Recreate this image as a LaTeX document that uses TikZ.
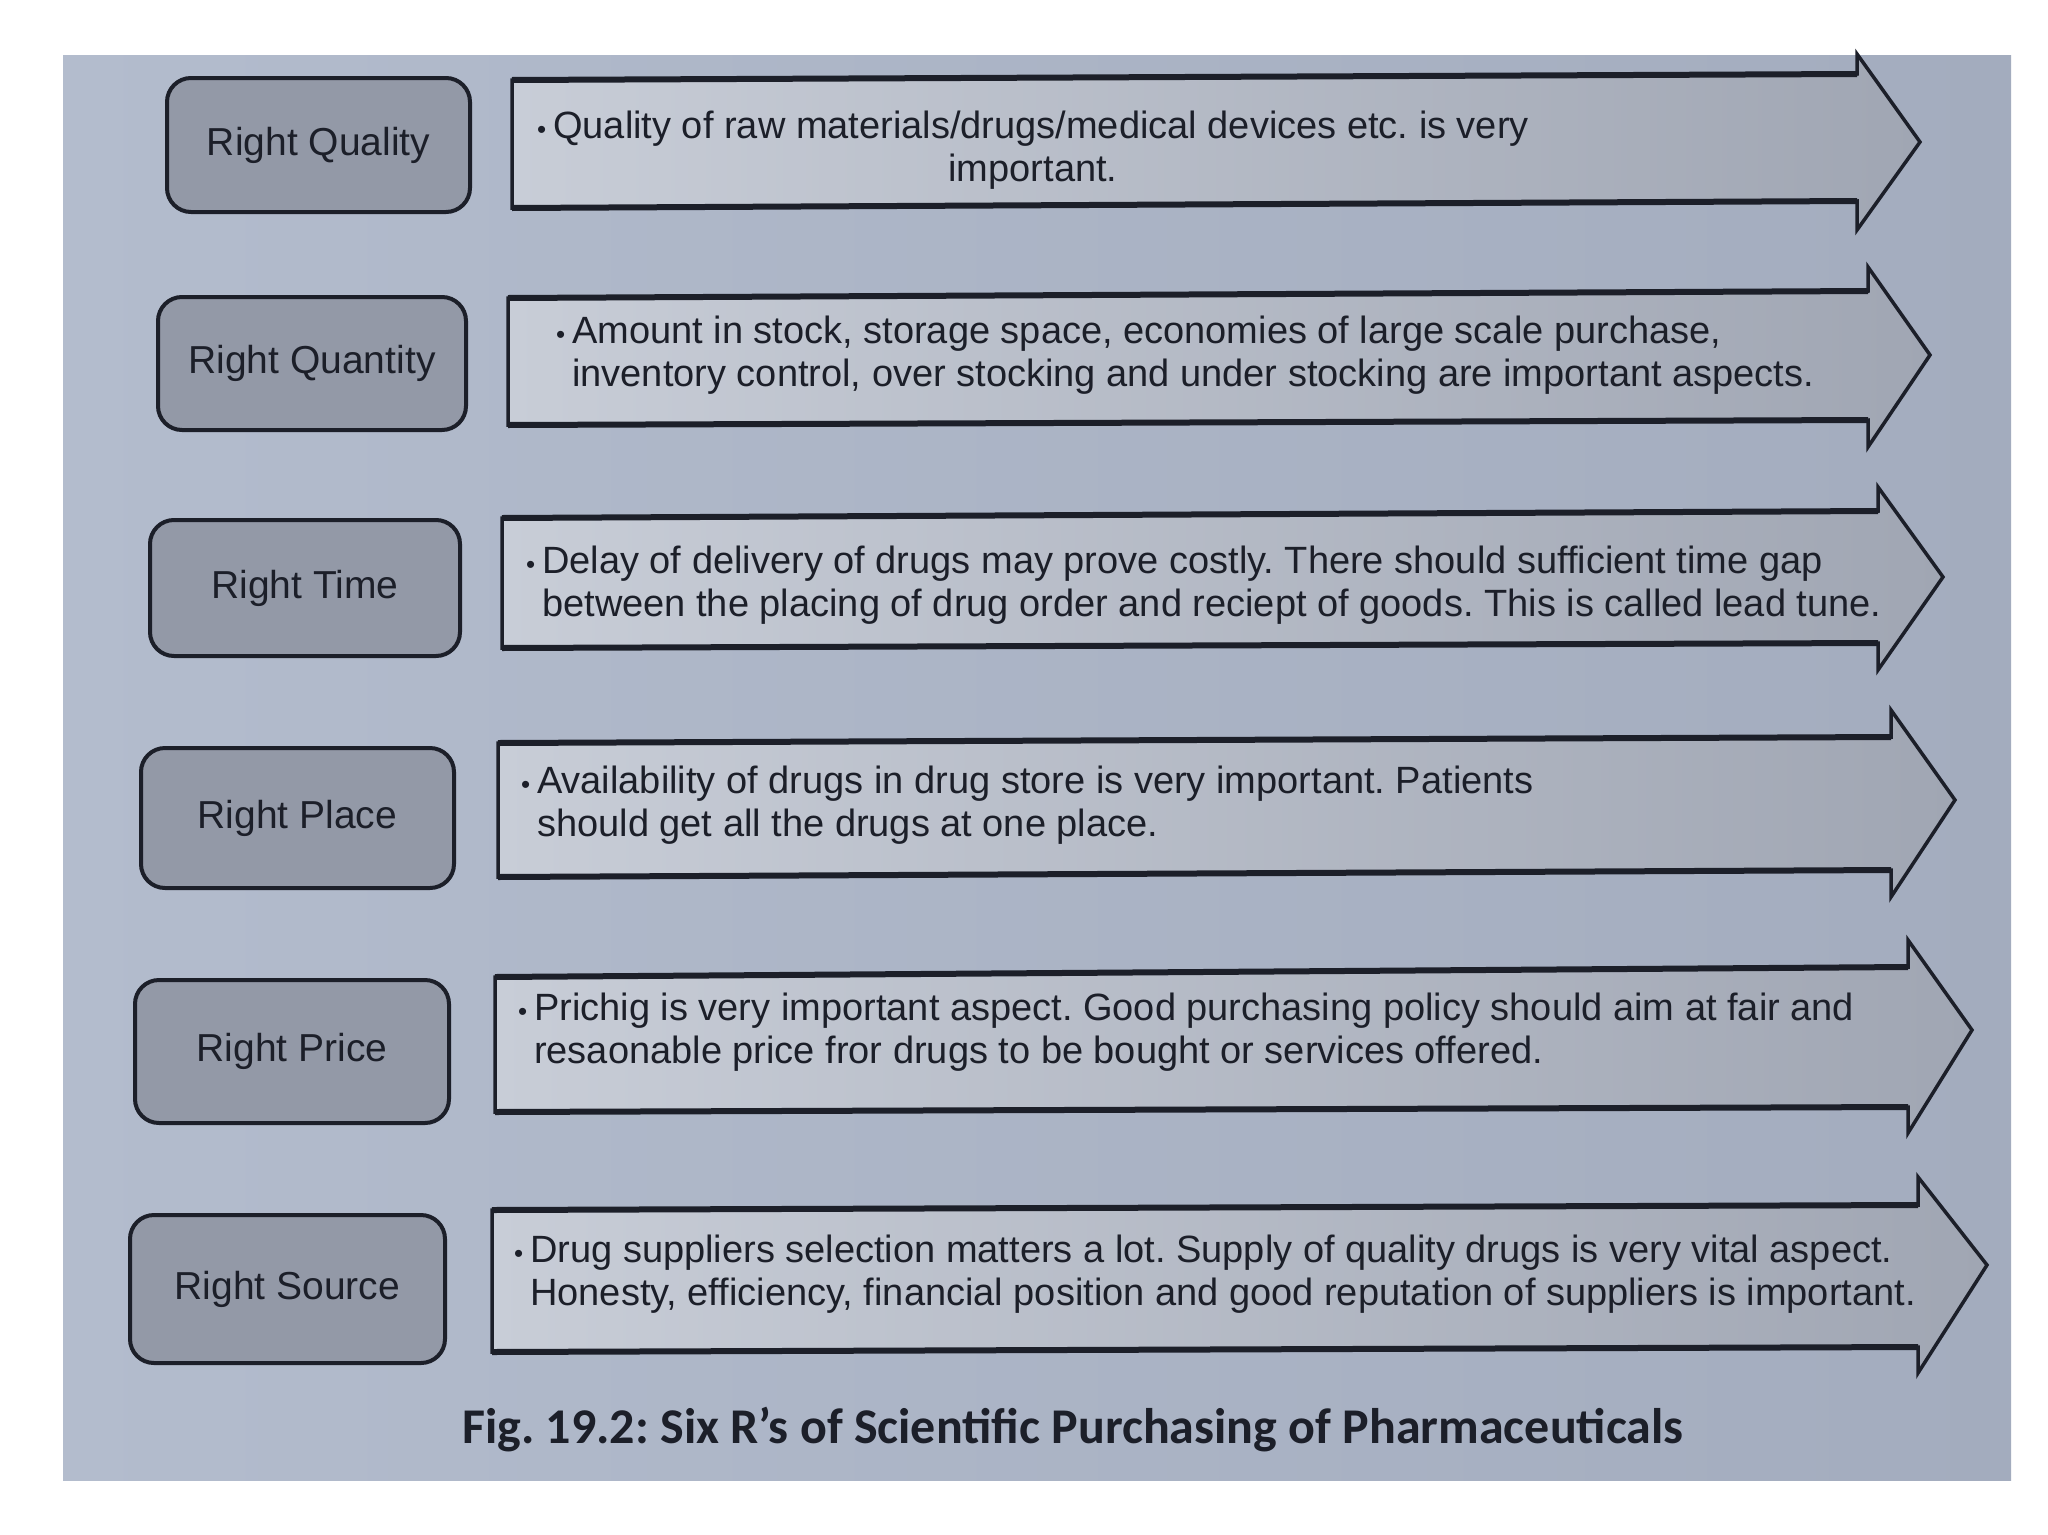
\documentclass[tikz,border=0pt]{standalone}
\usepackage{fontspec}
\setmainfont{Liberation Sans}
\newfontfamily\capfont{Carlito}
\definecolor{ink}{HTML}{1C1F29}
\definecolor{bgL}{HTML}{B3BCCD}
\definecolor{bgM}{HTML}{C5CCD9}
\definecolor{bgR}{HTML}{A3ACBE}
\definecolor{boxfill}{HTML}{9399A7}
\definecolor{arrL}{HTML}{C8CDD7}
\definecolor{arrM}{HTML}{C3C8D2}
\definecolor{arrR}{HTML}{A0A6B3}
\tikzset{
  rbox/.style={draw=ink, line width=4pt, rounded corners=24pt, fill=boxfill,
    text=ink, font=\fontsize{39}{42}\selectfont, inner sep=0pt},
  arrowshape/.style={draw=ink, line width=3.5pt, line join=miter,
    left color=arrL, middle color=arrM, right color=arrR},
  edge/.style={draw=ink, line width=6pt},
  desc/.style={text=ink, font=\fontsize{38}{43}\selectfont, inner sep=0pt},
}
\newcommand{\bul}{\llap{{\fontsize{26}{26}\selectfont •}\hspace{7pt}}}
\begin{document}
\frenchspacing
\begin{tikzpicture}[x=1pt,y=-1pt]
\useasboundingbox (0,0) rectangle (2048,1534);
\fill[white] (0,0) rectangle (2048,1534);
\shade[left color=bgL, middle color=bgM, right color=bgR] (63,55) rectangle (2011,1480);

% left boxes
\node[rbox, minimum width=303pt, minimum height=134pt] (q) at (318.5,145) {Right Quality};
\node[rbox, minimum width=308pt, minimum height=133pt] (n) at (312,363.5) {Right Quantity};
\node[rbox, minimum width=310pt, minimum height=136pt] (t) at (305,588) {Right Time};
\node[rbox, minimum width=313pt, minimum height=140pt] (p) at (297.5,818) {Right Place};
\node[rbox, minimum width=314pt, minimum height=143pt] (r) at (292,1051.5) {Right Price};
\node[rbox, minimum width=315pt, minimum height=148pt] (s) at (287.5,1289) {Right Source};

% arrows
\path[arrowshape] (512,80) -- (1857,74) -- (1857,54) -- (1920,142) -- (1857,230) -- (1857,201) -- (512,208) -- cycle;
\path[edge] (512,80) -- (1857,74) (1857,201) -- (512,208);
\path[arrowshape] (508,298) -- (1868,291) -- (1868,267) -- (1930,355) -- (1868,447) -- (1868,420) -- (508,425) -- cycle;
\path[edge] (508,298) -- (1868,291) (1868,420) -- (508,425);
\path[arrowshape] (502,518) -- (1878,511) -- (1878,487) -- (1943,577) -- (1878,670) -- (1878,643) -- (502,648) -- cycle;
\path[edge] (502,518) -- (1878,511) (1878,643) -- (502,648);
\path[arrowshape] (498,743) -- (1891,737) -- (1891,710) -- (1955,800) -- (1891,897) -- (1891,870) -- (498,877) -- cycle;
\path[edge] (498,743) -- (1891,737) (1891,870) -- (498,877);
\path[arrowshape] (495,977) -- (1908,967) -- (1908,940) -- (1972,1030) -- (1908,1133) -- (1908,1107) -- (495,1112) -- cycle;
\path[edge] (495,977) -- (1908,967) (1908,1107) -- (495,1112);
\path[arrowshape] (492,1210) -- (1918,1205) -- (1918,1177) -- (1987,1265) -- (1918,1373) -- (1918,1347) -- (492,1352) -- cycle;
\path[edge] (492,1210) -- (1918,1205) (1918,1347) -- (492,1352);

% texts
\node[desc, align=center] (qt) at (1033,150) {{\fontsize{26}{26}\selectfont •}\hspace{7pt}Quality of raw materials/drugs/medical devices etc. is very\\important.};
\node[desc, align=left, anchor=west] (nt) at (572,355) {\bul Amount in stock, storage space, economies of large scale purchase,\\inventory control, over stocking and under stocking are important aspects.};
\node[desc, align=left, anchor=west] (tt) at (542,585) {\bul Delay of delivery of drugs may prove costly. There should sufficient time gap\\between the placing of drug order and reciept of goods. This is called lead tune.};
\node[desc, align=left, anchor=west] (pt) at (537,805) {\bul Availability of drugs in drug store is very important. Patients\\should get all the drugs at one place.};
\node[desc, align=left, anchor=west] (rt) at (534,1032) {\bul Prichig is very important aspect. Good purchasing policy should aim at fair and\\resaonable price fror drugs to be bought or services offered.};
\node[desc, align=left, anchor=west] (st) at (530,1274) {\bul Drug suppliers selection matters a lot. Supply of quality drugs is very vital aspect.\\Honesty, efficiency, financial position and good reputation of suppliers is important.};

% caption
\node[text=ink, font=\capfont\bfseries\fontsize{50}{54}\selectfont, inner sep=0pt] (cap) at (1073,1430) {Fig. 19.2: Six R’s of Scientific Purchasing of Pharmaceuticals};
\end{tikzpicture}
\end{document}
